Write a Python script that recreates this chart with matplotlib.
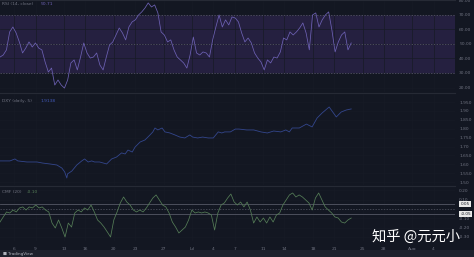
import numpy as np
import matplotlib
matplotlib.use("Agg")
from matplotlib import pyplot as plt
from matplotlib.patches import Rectangle

# time axis: days relative to 1 July
tick_days = [-25, -22, -18, -15, -11, -8, -4, 0, 3, 6, 10, 13, 17, 20, 24, 27, 31, 34]
tick_labels = ['6', '9', '13', '16', '20', '23', '27', 'Jul', '4', '7', '11', '14',
               '18', '21', '25', '28', 'Aug', '4']

rsi = [41.0, 42.4, 45.9, 58.3, 61.7, 57.6, 51.4, 43.8, 47.2, 51.4,
       47.9, 50.7, 47.2, 45.9, 37.6, 30.7, 33.4, 21.7, 25.2, 21.7,
       19.6, 25.2, 36.9, 39.0, 32.1, 41.0, 50.7, 43.8, 40.3, 41.0,
       43.8, 35.5, 32.1, 41.0, 49.3, 51.4, 56.2, 61.0, 57.6, 52.8,
       61.7, 65.2, 66.6, 70.0, 72.1, 74.8, 78.3, 75.5, 76.9, 71.4,
       58.3, 56.2, 51.4, 52.8, 45.9, 41.0, 39.0, 36.9, 33.4, 42.4,
       54.8, 43.8, 42.4, 44.5, 43.8, 41.0, 52.8, 61.7, 70.0, 61.7,
       66.6, 63.1, 68.6, 67.9,
       65.2, 57.6, 51.4, 54.1, 50.7, 43.8, 40.3, 37.6, 32.1, 39.0,
       36.9, 41.0, 40.3, 44.5, 54.1, 52.8, 58.3, 56.2, 58.3, 61.0,
       64.5, 57.6, 45.9, 70.0, 71.4, 61.7, 66.6, 70.0, 72.1, 59.7,
       44.5, 51.4, 56.2, 58.3, 45.9, 50.7]

dxy_days = [-27.0, -25.6, -24.9, -24.5, -23.2, -21.8, -21.0, -20.0, -19.0, -18.3,
            -17.9, -17.6, -17.5, -16.9, -16.2, -15.5, -15.1, -14.6, -14.1, -13.7,
            -13.0, -12.0, -11.3, -10.6, -9.9, -9.4, -9.0, -8.4, -8.0, -7.3,
            -6.6, -5.9, -5.5, -5.2, -4.8, -4.2, -3.8, -3.1, -2.4, -1.7,
            -1.0, -0.3, 0.1, 0.8, 1.5, 2.3, 3.0, 3.7, 4.2, 4.6,
            5.4, 6.1, 6.6, 7.7, 8.7, 9.7, 10.6, 11.5, 12.5, 13.2,
            13.7, 14.1, 15.1, 16.1, 16.9, 17.6, 18.3, 19.3, 20.3, 21.0,
            21.7, 22.4]
dxy = [1.619, 1.619, 1.630, 1.619, 1.613, 1.613, 1.607, 1.602, 1.596, 1.579,
       1.557, 1.523, 1.546, 1.562, 1.596, 1.619, 1.630, 1.613, 1.619, 1.613,
       1.613, 1.602, 1.630, 1.641, 1.664, 1.658, 1.680, 1.669, 1.697, 1.725,
       1.737, 1.765, 1.782, 1.804, 1.793, 1.804, 1.782, 1.776, 1.765, 1.753,
       1.748, 1.765, 1.753, 1.748, 1.753, 1.748, 1.748, 1.782, 1.776, 1.782,
       1.782, 1.798, 1.798, 1.793, 1.793, 1.782, 1.776, 1.787, 1.782, 1.793,
       1.782, 1.804, 1.804, 1.826, 1.810, 1.860, 1.888, 1.922, 1.866, 1.894,
       1.905, 1.911]

cmf = [-0.140, -0.086, -0.032, -0.043, -0.011, -0.032, 0.011, 0.022, -0.011, 0.022,
       0.011, 0.043, 0.011, 0.022, -0.011, -0.032, -0.151, -0.204, -0.118, -0.204,
       -0.301, -0.151, -0.194, -0.043, -0.011, -0.032, 0.011, -0.011, 0.043, -0.032,
       -0.118, -0.151, -0.194, -0.247, -0.301, -0.118, -0.032, 0.065, 0.129, 0.075,
       0.043, -0.011, -0.032, -0.011, -0.032, 0.011, 0.065, 0.118, 0.151, 0.097,
       0.043, 0.022, -0.043, -0.140, -0.194, -0.258, -0.226, -0.194, -0.118, -0.011,
       -0.043, -0.032, -0.043, -0.032, -0.043, -0.065, -0.226, -0.043, 0.043, 0.065,
       0.118, 0.161, 0.075,
       0.043, 0.075, 0.022, 0.075, -0.011, -0.151, -0.086, -0.140, -0.097,
       -0.151, -0.086, -0.140, -0.065, -0.043, 0.043, 0.097, 0.151, 0.172, 0.129,
       0.151, 0.129, 0.097, 0.065, -0.011, 0.118, 0.172, 0.097, 0.022, -0.011,
       -0.043, -0.086, -0.097, -0.140, -0.151, -0.118, -0.097]

rsi_ticks = [20, 30, 40, 50, 60, 70, 80]
dxy_ticks = [1.50, 1.55, 1.60, 1.65, 1.70, 1.75, 1.80, 1.85, 1.90, 1.95]
cmf_ticks = [-0.3, -0.2, -0.1, 0.1, 0.2]
cmf_levels = [0.05, -0.05]

start, end = -27.0, 22.4
rsi_days = np.linspace(start, end, len(rsi))
cmf_days = np.linspace(start, end, len(cmf))

bg = '#131722'
grid = '#171b26'
sep = '#262a35'
txt = '#6f7280'

W, H = 474, 257
fig = plt.figure(figsize=(W / 100, H / 100), dpi=100, facecolor=bg)
right = 455 / W


def pane(top, bottom):
    ax = fig.add_axes([0, 1 - bottom / H, right, (bottom - top) / H])
    ax.set_facecolor(bg)
    ax.set_xlim(-27.0, 37.0)
    ax.set_xticks(tick_days)
    ax.grid(True, color=grid, linewidth=0.5)
    ax.yaxis.tick_right()
    ax.tick_params(axis='y', length=0, labelsize=3.2, labelcolor=txt, pad=3)
    ax.tick_params(axis='x', length=0, labelbottom=False)
    for s in ax.spines.values():
        s.set_visible(False)
    ax.spines['top'].set_visible(True)
    ax.spines['top'].set_color(sep)
    ax.spines['top'].set_linewidth(0.8)
    return ax


def title(ax, y, name, value, color, gap):
    ax.text(0.004, y, name, transform=ax.transAxes, fontsize=3.2, color=txt, va='top')
    ax.text(0.004 + gap, y, value, transform=ax.transAxes, fontsize=3.2,
            color=color, va='top')


# RSI pane
ax1 = pane(0, 92)
ax1.set_ylim(16.9, 80.3)
ax1.axhspan(30, 70, color='#252040', lw=0)
for lv in [70, 50, 30]:
    ax1.axhline(lv, color='#5f5c72', lw=0.5, ls=(0, (2, 2)))
ax1.plot(rsi_days, rsi, color='#6d61b4', lw=0.55)
ax1.set_yticks(rsi_ticks)
ax1.set_yticklabels(['%.2f' % v for v in rsi_ticks])
title(ax1, 0.975, 'RSI (14, close)', '50.71', '#6d61b4', 0.085)

# DXY pane
ax2 = pane(93, 185)
ax2.set_ylim(1.4837, 2.0006)
ax2.plot(dxy_days, dxy, color='#33468c', lw=0.6)
ax2.set_yticks(dxy_ticks)
ax2.set_yticklabels(['%.3f' % v if round(v * 100) % 10 else '%.2f' % v for v in dxy_ticks])
title(ax2, 0.93, 'DXY (daily, 5)', '1.9138', '#4259b8', 0.085)

# CMF pane
ax3 = pane(186, 241)
ax3.set_ylim(-0.344, 0.247)
for lv in cmf_levels:
    ax3.axhline(lv, color='#555865', lw=0.6)
ax3.axhline(0, color='#555865', lw=0.5, ls=(0, (2, 2)))
ax3.plot(cmf_days, cmf, color='#557d57', lw=0.55)
ax3.set_yticks(cmf_ticks)
ax3.set_yticklabels(['%.2f' % v for v in cmf_ticks])
for lv in cmf_levels:
    ax3.text(1.012, lv, '%.2f' % lv, transform=ax3.get_yaxis_transform(),
             fontsize=3.0, color='#131722', va='center', ha='left',
             bbox=dict(boxstyle='square,pad=0.25', fc='#e8e8e8', ec='none'))
title(ax3, 0.93, 'CMF (20)', '-0.10', '#557d57', 0.055)
ax3.tick_params(axis='x', labelbottom=True, labelsize=3.2, labelcolor=txt, pad=4)
ax3.set_xticklabels(tick_labels)

# footer strip
fig.patches.append(Rectangle((0, 0), 1, 7 / H, transform=fig.transFigure,
                             facecolor='#1e222d', edgecolor='none'))
fig.text(0.006, 3.5 / H, '\u25a0 TradingView', fontsize=3.0, color='#b2b5be', va='center')

# watermark
fig.text(372 / W, 1 - 237 / H, '知乎 @元元小', fontsize=10.3, color='white',
         va='center', ha='left', family=['Noto Sans CJK SC', 'DejaVu Sans'])

fig.savefig('out.png', dpi=100, facecolor=bg)
